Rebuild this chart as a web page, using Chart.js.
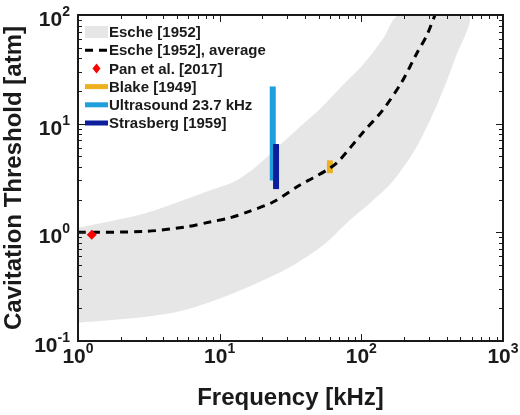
<!DOCTYPE html>
<html>
<head>
<meta charset="utf-8">
<script src="https://cdn.jsdelivr.net/npm/chart.js@4.4.1/dist/chart.umd.min.js"></script>
<style>
  html, body { margin: 0; padding: 0; background: #fff; }
  #wrap { width: 520px; height: 415px; }
</style>
</head>
<body>
<div id="wrap"><canvas id="chart" width="520" height="415"></canvas></div>
<script>
// Esche [1952] band, upper and lower edge (kHz, atm)
const upperFreq = [1, 3, 5.7, 8.7, 12.5, 18, 25, 35, 52, 75, 103, 142, 185];
const upperVal  = [1.1, 1.5, 2.0, 2.45, 2.9, 4.0, 5.9, 8.8, 14, 23, 35, 60, 100];
const lowerFreq = [1, 3, 5.7, 12, 22, 35, 55, 79, 120, 165, 240, 350, 460, 570];
const lowerVal  = [0.147, 0.167, 0.193, 0.27, 0.38, 0.52, 0.78, 1.22, 1.95, 2.9, 5.8, 16, 40, 100];

// Esche [1952], average
const avgFreq = [1, 3, 5.7, 8.7, 11.8, 16, 23.8, 36.9, 45.5, 60, 70, 102.6, 142, 193, 247, 290, 331];
const avgVal  = [1.0, 1.02, 1.12, 1.25, 1.36, 1.55, 1.9, 2.73, 3.16, 3.9, 4.6, 8.3, 13.4, 24.2, 44.7, 65, 100];

// single measurements
const panFreq = 1.25, panVal = 0.95;
const blakeFreq = 60, blakeRange = [3.5, 4.6];
const ultraFreq = 23.7, ultraRange = [3.0, 22];
const strasFreq = 25, strasRange = [2.5, 6.5];

// axis ticks
const xTickVals = [1, 10, 100, 1000];
const xTickExps = ['0', '1', '2', '3'];
const yTickVals = [0.1, 1, 10, 100];
const yTickExps = ['-1', '0', '1', '2'];

const FONT = '"Liberation Sans", Arial, Helvetica, sans-serif';
const INK = '#1a1a1a';

function pts(xs, ys) {
    return xs.map((x, i) => ({ x: x, y: ys[i] }));
}

// closed outline: upper edge out, lower edge back
const bandPoly = pts(upperFreq, upperVal).concat(pts(lowerFreq, lowerVal).reverse());

function drawPow(ctx, exp, x, baseline, align) {
    ctx.font = 'bold 21px ' + FONT;
    const wb = ctx.measureText('10').width;
    ctx.font = 'bold 14px ' + FONT;
    const we = ctx.measureText(exp).width;
    const total = wb + we;
    let left = align === 'center' ? x - total / 2 : x - total;
    ctx.textAlign = 'left';
    ctx.textBaseline = 'alphabetic';
    ctx.font = 'bold 21px ' + FONT;
    ctx.fillText('10', left, baseline);
    ctx.font = 'bold 14px ' + FONT;
    ctx.fillText(exp, left + wb, baseline - 10);
}

const framePlugin = {
    id: 'frame',
    afterDraw(chart) {
        const { ctx, chartArea: a, scales: { x, y } } = chart;
        ctx.save();
        ctx.strokeStyle = INK;
        ctx.fillStyle = INK;

        // tick marks on all four sides
        ctx.lineWidth = 1;
        ctx.beginPath();
        for (let d = 0; d < 3; d++) {
            for (let m = 1; m < 10; m++) {
                const len = m === 1 ? 7 : 4;
                const px = Math.round(x.getPixelForValue(xTickVals[d] * m)) + 0.5;
                ctx.moveTo(px, a.bottom); ctx.lineTo(px, a.bottom - len);
                ctx.moveTo(px, a.top); ctx.lineTo(px, a.top + len);
                const py = Math.round(y.getPixelForValue(yTickVals[d] * m)) + 0.5;
                ctx.moveTo(a.left, py); ctx.lineTo(a.left + len, py);
                ctx.moveTo(a.right, py); ctx.lineTo(a.right - len, py);
            }
        }
        ctx.stroke();

        ctx.lineWidth = 2;
        ctx.strokeRect(a.left, a.top, a.right - a.left, a.bottom - a.top);

        // tick labels
        xTickVals.forEach((v, i) => drawPow(ctx, xTickExps[i], x.getPixelForValue(v), 363, 'center'));
        yTickVals.forEach((v, i) => drawPow(ctx, yTickExps[i], a.left - 8, y.getPixelForValue(v) + 11, 'right'));

        // axis titles
        ctx.font = 'bold 24px ' + FONT;
        ctx.textAlign = 'center';
        ctx.textBaseline = 'middle';
        ctx.fillText('Frequency [kHz]', (a.left + a.right) / 2, 398);
        ctx.save();
        ctx.translate(14, (a.top + a.bottom) / 2);
        ctx.rotate(-Math.PI / 2);
        ctx.fillText('Cavitation Threshold [atm]', 0, 0);
        ctx.restore();

        // legend, inside top left
        const ds = chart.data.datasets;
        ctx.font = 'bold 15px ' + FONT;
        ctx.textAlign = 'left';
        ctx.textBaseline = 'middle';
        ds.forEach((d, i) => {
            const cy = 32 + i * 18.2;
            const x0 = 85, x1 = 108;
            ctx.save();
            if (d.legendKind === 'patch') {
                ctx.fillStyle = d.backgroundColor;
                ctx.fillRect(x0, cy - 6, x1 - x0, 12);
            } else if (d.legendKind === 'marker') {
                ctx.fillStyle = d.backgroundColor;
                ctx.beginPath();
                const cx = (x0 + x1) / 2;
                ctx.moveTo(cx, cy - 5); ctx.lineTo(cx + 4, cy); ctx.lineTo(cx, cy + 5); ctx.lineTo(cx - 4, cy);
                ctx.closePath();
                ctx.fill();
            } else {
                ctx.strokeStyle = d.borderColor;
                ctx.lineWidth = d.legendKind === 'dash' ? 3 : 5;
                ctx.setLineDash(d.borderDash || []);
                ctx.beginPath();
                ctx.moveTo(x0, cy); ctx.lineTo(x1, cy);
                ctx.stroke();
            }
            ctx.restore();
            ctx.fillStyle = INK;
            ctx.fillText(d.label, 109, cy + 1);
        });
        ctx.restore();
    }
};

const rangeLine = (label, f, r, color, order) => ({
    label: label,
    data: [{ x: f, y: r[0] }, { x: f, y: r[1] }],
    showLine: true,
    borderColor: color,
    backgroundColor: color,
    borderWidth: 6,
    borderCapStyle: 'butt',
    pointRadius: 0,
    fill: false,
    order: order,
    legendKind: 'line'
});

new Chart(document.getElementById('chart'), {
    type: 'scatter',
    data: {
        datasets: [
            {
                label: 'Esche [1952]',
                data: bandPoly,
                showLine: true,
                fill: 'shape',
                tension: 0.3,
                backgroundColor: '#e6e6e6',
                borderColor: 'rgba(0,0,0,0)',
                borderWidth: 0,
                pointRadius: 0,
                order: 6,
                legendKind: 'patch'
            },
            {
                label: 'Esche [1952], average',
                data: pts(avgFreq, avgVal),
                showLine: true,
                tension: 0.3,
                borderColor: '#000',
                borderWidth: 3,
                borderDash: [8, 6],
                pointRadius: 0,
                fill: false,
                order: 1,
                legendKind: 'dash'
            },
            {
                label: 'Pan et al. [2017]',
                data: [{ x: panFreq, y: panVal }],
                pointStyle: 'rectRot',
                pointRadius: 5,
                backgroundColor: '#ff0000',
                borderColor: '#ff0000',
                borderWidth: 0,
                order: 0,
                legendKind: 'marker'
            },
            rangeLine('Blake [1949]', blakeFreq, blakeRange, '#edb120', 2),
            rangeLine('Ultrasound 23.7 kHz', ultraFreq, ultraRange, '#1f9fdc', 4),
            rangeLine('Strasberg [1959]', strasFreq, strasRange, '#0c1e9c', 3)
        ]
    },
    options: {
        responsive: false,
        animation: false,
        devicePixelRatio: 1,
        layout: { padding: { top: 15, right: 17, left: 0, bottom: 0 } },
        plugins: {
            legend: { display: false },
            tooltip: { enabled: false }
        },
        scales: {
            x: {
                type: 'logarithmic',
                min: 1,
                max: 1000,
                ticks: { display: false },
                grid: { display: false },
                border: { display: false },
                afterFit: s => { s.height = 74; }
            },
            y: {
                type: 'logarithmic',
                min: 0.1,
                max: 100,
                ticks: { display: false },
                grid: { display: false },
                border: { display: false },
                afterFit: s => { s.width = 78; }
            }
        }
    },
    plugins: [framePlugin]
});
</script>
</body>
</html>
